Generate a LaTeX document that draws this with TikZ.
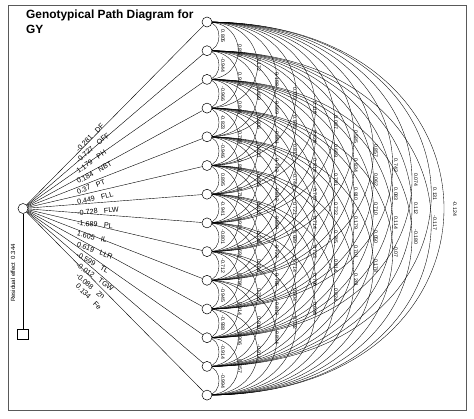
\documentclass[tikz,border=0pt]{standalone}
\usepackage{fontspec}
\setmainfont{Liberation Sans}
\usetikzlibrary{backgrounds}
\newcommand\corrcol[3]{%
  \foreach \v [count=\i] in {#3}{
    \pgfmathsetmacro{\yy}{22+28.7*(\i-1)+14.35*#1}
    \node[corr] (r#1-\i) at (#2,\yy) {\v};
  }}
\begin{document}
\begin{tikzpicture}[x=1pt,y=-1pt,
  vcirc/.style={draw,circle,fill=white,minimum size=10pt,inner sep=0pt,line width=0.5pt},
  corr/.style={font=\fontsize{5.2}{5}\selectfont,rotate=-90,inner sep=0pt},
  deff/.style={font=\fontsize{7.2}{7}\selectfont,inner sep=0pt,anchor=west},
  link/.style={line width=0.4pt},
  arcl/.style={line width=0.35pt},
  ttl/.style={font=\bfseries\fontsize{11.9}{14}\selectfont,anchor=base west,inner sep=0pt}]
\useasboundingbox (0,0) rectangle (474,418);
\draw[black!65,line width=0.7pt] (8,5) rectangle (466,410);
\node[ttl] (title) at (26,18.5) {Genotypical Path Diagram for};
\node[ttl] (gy) at (26,33.5) {GY};
% trait circles
\foreach \i in {1,...,14} \node[vcirc] (c\i) at (207,{22+28.7*(\i-1)}) {};
\node[vcirc] (L) at (23,208.5) {};
\node[draw,minimum width=11pt,minimum height=10pt,inner sep=0pt,line width=0.5pt] (res) at (23,334) {};
\draw[link] (L) -- (res);
\node[rotate=90,font=\fontsize{6}{6}\selectfont,inner sep=0pt] (restxt) at (13,273) {Residual effect\ \ 0.344};
% direct effects
\foreach \v/\n [count=\i] in {-0.281/DF,-0.727/OFF,1.179/PH,0.184/NBT,0.37/PT,0.449/FLL,-0.728/FLW,-1.689/PL,1.605/IL,0.619/LLR,-0.599/TL,-0.012/TGW,-0.088/Zn,0.134/Fe}{
  \draw[link] (L) -- (c\i);
  \pgfmathsetmacro{\ang}{atan2(208.5-(22+28.7*(\i-1)),184)}
  \node[deff,rotate=\ang] (d\i) at (77,{151+10.3*(\i-1)}) {\v\hspace{0.9em}\n};
}
% correlation arcs (cubic curves leaving the circles horizontally)
\begin{scope}[on background layer]
\foreach \i in {1,...,13}{
  \pgfmathtruncatemacro{\ii}{\i+1}
  \foreach \j in {\ii,...,14}{
    \pgfmathsetmacro{\k}{\j-\i}
    \pgfmathsetmacro{\cc}{(\k<13 ? 12+19.3*(\k-1) : 237)*4/3}
    \draw[arcl] (c\i.center) .. controls +(\cc,0) and +(\cc,0) .. (c\j.center);
  }
}
\end{scope}
% correlation values
\corrcol{1}{223}{0.805,-0.944,-0.966,-0.823,-0.946,0.895,-0.941,-0.801,-0.712,-0.945,-0.938,-0.914,-0.994}
\corrcol{2}{240}{0.858,0.914,0.846,-0.790,-0.858,0.712,-0.914,0.691,0.784,0.914,-0.906,0.857}
\corrcol{3}{259}{0.172,0.469,0.906,-0.821,-0.895,0.812,-0.746,0.764,0.755,0.916,-0.914}
\corrcol{4}{277}{0.188,0.569,-0.801,0.713,-0.812,0.859,0.722,0.785,0.812,0.834}
\corrcol{5}{295}{0.703,0.845,0.812,-0.744,0.721,0.689,0.714,0.804,0.782}
\corrcol{6}{315}{0.110,0.426,0.814,-0.747,0.714,0.733,0.796,0.698}
\corrcol{7}{336}{0.087,0.669,0.791,0.732,0.745,0.814,0.824}
\corrcol{8}{356}{0.585,0.834,0.810,0.179,0.701,0.261}
\corrcol{9}{376}{0.857,0.062,0.710,0.050,0.178}
\corrcol{10}{396}{0.742,0.083,0.114,-0.07}
\corrcol{11}{416}{0.074,0.112,-0.180}
\corrcol{12}{435}{0.131,-0.117}
\corrcol{13}{455}{-0.124}
\end{tikzpicture}
\end{document}
